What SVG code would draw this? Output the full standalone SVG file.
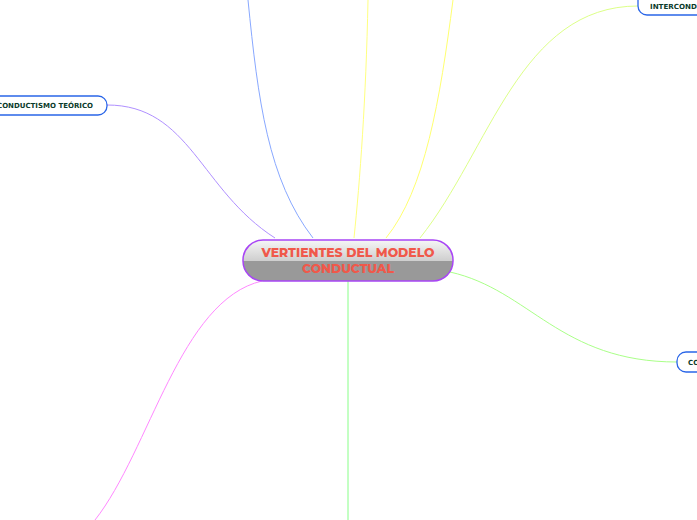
<svg xmlns="http://www.w3.org/2000/svg" width="697" height="520" viewBox="0 0 697 520">
<style>
.c{fill:none;stroke-width:1}
.sub{fill:#fff;stroke:#2a66e8;stroke-width:1.3}
.st{font-family:"DejaVu Sans",sans-serif;font-weight:bold;font-size:7px;fill:#0b3b2b}
.mt{font-family:"Montserrat","Inter","Open Sans",sans-serif;font-weight:800;font-size:13px;fill:#f0584a;text-anchor:middle}
</style>
<defs>
<linearGradient id="g" x1="0" y1="0" x2="0" y2="1">
<stop offset="0" stop-color="#f6f6f6"/>
<stop offset="0.5" stop-color="#cfcfcf"/>
<stop offset="0.5" stop-color="#999999"/>
<stop offset="1" stop-color="#999999"/>
</linearGradient>
</defs>
<g id="connectors">
<path class="c" stroke="#b090ff" d="M107,105 C190,105 200,190 275,238"/>
<path class="c" stroke="#88a8ff" d="M248,0 C258,100 268,180 313,238"/>
<path class="c" stroke="#ffff80" d="M368,0 C366,100 360,180 354,238"/>
<path class="c" stroke="#ffff70" d="M453,0 C440,100 425,190 386,238"/>
<path class="c" stroke="#ddff88" d="M638,6 C520,6 490,150 420,238"/>
<path class="c" stroke="#aaff88" d="M450,272 C530,290 560,362 677,362"/>
<path class="c" stroke="#88ff88" d="M348,281 L348,520"/>
<path class="c" stroke="#ff88ff" d="M262,281 C180,300 150,450 95,520"/>
</g>
<g id="central">
<rect x="243" y="240" width="210" height="41" rx="20" fill="url(#g)" stroke="#a845f5" stroke-width="1.5"/>
<text class="mt" x="348" y="257" textLength="173" lengthAdjust="spacingAndGlyphs">VERTIENTES DEL MODELO</text>
<text class="mt" x="348" y="273" textLength="92" lengthAdjust="spacingAndGlyphs">CONDUCTUAL</text>
</g>
<g id="node-conductismo">
<rect class="sub" x="-20" y="96" width="127" height="19" rx="9"/>
<text class="st" x="-3" y="108" textLength="96" lengthAdjust="spacingAndGlyphs">CONDUCTISMO TEÓRICO</text>
</g>
<g id="node-intercond">
<rect class="sub" x="638" y="-10" width="80" height="25" rx="9"/>
<text class="st" x="650" y="9" textLength="47" lengthAdjust="spacingAndGlyphs">INTERCOND</text>
</g>
<g id="node-co">
<rect class="sub" x="677" y="352" width="40" height="20" rx="9"/>
<text class="st" x="688" y="365">CO</text>
</g>
</svg>
